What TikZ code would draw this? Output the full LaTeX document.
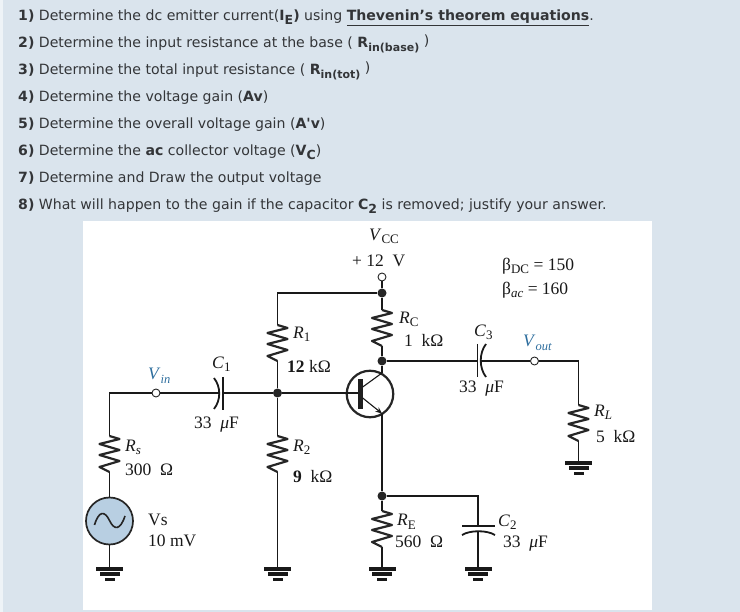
\documentclass[tikz,border=0pt]{standalone}
\usepackage{fontspec}
\setmainfont{Liberation Serif}
\newfontfamily\hdrfont{DejaVu Sans}
\usetikzlibrary{arrows.meta}
\definecolor{pagebg}{HTML}{DAE4ED}
\definecolor{pagestrip}{HTML}{EEF3F7}
\definecolor{hdrtext}{HTML}{333538}
\definecolor{srcfill}{HTML}{B8CFE2}
\definecolor{labblue}{HTML}{2E6E9E}
\newcommand{\lowtxt}[2][3]{\raisebox{-#1pt}{\fontsize{13}{13}\selectfont #2}}
\newcommand{\hlow}[2][4]{\raisebox{-#1pt}{\fontsize{12.5}{12.5}\selectfont\bfseries #2}}
\newcommand{\hlows}[2][4]{\raisebox{-#1pt}{\fontsize{11}{11}\selectfont\bfseries #2}}
\tikzset{
  x=1pt,y=-1pt,
  hdr/.style={anchor=base west,inner sep=0pt,text=hdrtext,font=\hdrfont\fontsize{14.1}{17}\selectfont},
  lab/.style={anchor=base west,inner sep=0pt,text=black!90,font=\fontsize{17.5}{20}\selectfont},
  wire/.style={line width=1.1pt,black!90},
  res/.style={line width=2.2pt,black!85,line join=round},
  plate/.style={line width=1.4pt,black!90},
  dotj/.style={circle,fill=black!85,draw=none,inner sep=0pt,minimum size=9pt},
  term/.style={circle,fill=white,draw=black!85,line width=0.9pt,inner sep=0pt,minimum size=8pt},
  gnd/.pic={
    \fill[black!90] (-13.5,-2) rectangle (13.5,2);
    \fill[black!90] (-10,3.5) rectangle (10,7);
    \fill[black!90] (-5,9.5) rectangle (5,12.5);
  }
}
\newcommand{\zig}[1]{\draw[res] (#1) -- ++(10,3) -- ++(-20,5) -- ++(20,6) -- ++(-20,5) -- ++(20,6) -- ++(-20,6) -- ++(10,5);}
\begin{document}
\begin{tikzpicture}
\useasboundingbox (0,0) rectangle (740,612);
\fill[pagebg] (0,0) rectangle (740,612);
\fill[pagestrip] (0,0) rectangle (3,612);
\fill[white] (83,221) rectangle (652,610);
% header text
\node[hdr] (q1) at (18,21) {\textbf{1)} Determine the dc emitter current(\textbf{I\hlow{E})} using \textbf{\underline{Thevenin’s theorem equations}}.};
\node[hdr] (q2) at (18,48) {\textbf{2)} Determine the input resistance at the base ( \textbf{R\hlows{in(base)}} \raisebox{2pt}{)}};
\node[hdr] (q3) at (18,75) {\textbf{3)} Determine the total input resistance ( \textbf{R\hlows{in(tot)}} \raisebox{2pt}{)}};
\node[hdr] (q4) at (18,102) {\textbf{4)} Determine the voltage gain (\textbf{Av})};
\node[hdr] (q5) at (18,129) {\textbf{5)} Determine the overall voltage gain (\textbf{A'v})};
\node[hdr] (q6) at (18,156) {\textbf{6)} Determine the \textbf{ac} collector voltage (\textbf{V\hlow{C}})};
\node[hdr] (q7) at (18,183) {\textbf{7)} Determine and Draw the output voltage};
\node[hdr] (q8) at (18,210) {\textbf{8)} What will happen to the gain if the capacitor \textbf{C\hlow{2}} is removed; justify your answer.};
% junctions and terminals
\node[term] (vcc) at (382,277) {};
\node[dotj] (ntop) at (382,293) {};
\node[dotj] (ncol) at (382,361) {};
\node[dotj] (nbase) at (277.5,393) {};
\node[dotj] (nemit) at (382,496) {};
\node[term] (vin) at (156,393) {};
\node[term] (vout) at (534.5,361) {};
\coordinate (topleft) at (277.5,293);
\coordinate (r1t) at (277.5,325); \coordinate (r1b) at (277.5,361);
\coordinate (r2t) at (277.5,436); \coordinate (r2b) at (277.5,472);
\coordinate (rct) at (382,310);   \coordinate (rcb) at (382,346);
\coordinate (ret) at (382,511);   \coordinate (reb) at (382,547);
\coordinate (rst) at (109.5,436); \coordinate (rsb) at (109.5,472);
\coordinate (rlt) at (578.5,405); \coordinate (rlb) at (578.5,441);
\coordinate (wirel) at (109.5,393);
\coordinate (wirer) at (578.5,361);
\coordinate (wirec2) at (478,496);
\coordinate (g1) at (109.5,569); \coordinate (g2) at (277.5,569);
\coordinate (g3) at (382,569);   \coordinate (g4) at (478,569);
\coordinate (g5) at (578.5,463);
\coordinate (c1l) at (219.5,393); \coordinate (c1r) at (223,393);
\coordinate (c3l) at (477.7,361);   \coordinate (c3r) at (481,361);
\coordinate (c2t) at (478,526);     \coordinate (c2b) at (478,532);
\coordinate (bar) at (360,393);
\coordinate (colend) at (382,373);
\coordinate (emend) at (382,413.5);
% source and transistor
\node[circle,draw=black!85,line width=1.7pt,fill=srcfill,minimum size=47pt,inner sep=0pt] (src) at (109.5,521) {};
\node[circle,draw=black!85,line width=2.2pt,fill=white,minimum size=46.5pt,inner sep=0pt] (q) at (370,394) {};
\draw[line width=1.6pt,black!85] (94.5,525) .. controls (99,510) and (105,511) .. (109.5,520.5) .. controls (114,530) and (120,531) .. (125,516);
% wires
\draw[wire] (vcc) -- (ntop) -- (rct);
\draw[wire] (rcb) -- (ncol) -- (colend);
\draw[wire] (ntop) -- (topleft) -- (r1t);
\draw[wire] (r1b) -- (nbase) -- (r2t);
\draw[wire] (r2b) -- (g2);
\draw[wire] (nbase) -- (bar);
\draw[wire] (ncol) -- (c3l);
\draw[wire] (c3r) -- (vout) -- (wirer) -- (rlt);
\draw[wire] (rlb) -- (g5);
\draw[wire] (emend) -- (nemit) -- (ret);
\draw[wire] (reb) -- (g3);
\draw[wire] (nemit) -- (wirec2) -- (c2t);
\draw[wire] (c2b) -- (g4);
\draw[wire] (c1r) -- (nbase);
\draw[wire] (c1l) -- (vin) -- (wirel) -- (rst);
\draw[wire] (rsb) -- (src);
\draw[wire] (src) -- (g1);
% transistor inside
\fill[black!88] (357.7,379) rectangle (362.7,409.5);
\draw[wire] (362.7,387) -- (colend);
\draw[wire,-{Stealth[length=6.5pt,width=5.5pt]}] (362.7,398) -- (emend);
% resistors
\zig{r1t} \zig{r2t} \zig{rct} \zig{ret} \zig{rst} \zig{rlt}
% capacitors
\draw[plate] (223,377) -- (223,410);
\draw[line width=1.8pt,black!90] (214,378) .. controls (221,387) and (221,400) .. (214,409);
\draw[plate] (477.7,344) -- (477.7,377);
\draw[line width=1.8pt,black!90] (486,344) .. controls (479,353) and (479,368) .. (486,377);
\draw[line width=2pt,black!90] (462,526) -- (495,526);
\draw[line width=1.8pt,black!90] (462,535) .. controls (470,530) and (487,530) .. (495,535);
% grounds
\pic at (g1) {gnd}; \pic at (g2) {gnd}; \pic at (g3) {gnd}; \pic at (g4) {gnd}; \pic at (g5) {gnd};
% labels
\node[lab] (lvcc) at (369,241) {\textit{V}\lowtxt{CC}};
\node[lab] (l12v) at (352,267) {+ 12~~V};
\node[lab] (lbdc) at (502,271) {β\lowtxt{DC} = 150};
\node[lab] (lbac) at (502,295) {β\lowtxt{\textit{ac}} = 160};
\node[lab] (lrc) at (399,324) {\textit{R}\lowtxt{C}};
\node[lab] (lrcv) at (404,347) {1~~kΩ};
\node[lab] (lc3) at (474,337) {\textit{C}\lowtxt{3}};
\node[lab,text=labblue] (lvout) at (523,347) {\textit{V}\raisebox{-4pt}{\fontsize{12.5}{12.5}\selectfont\textit{out}}};
\node[lab] (lc3v) at (459,393) {33~~\textit{μ}F};
\node[lab] (lr1) at (293,339) {\textit{R}\lowtxt{1}};
\node[lab] (lr1v) at (287,373) {\textbf{12} kΩ};
\node[lab,text=labblue] (lvin) at (148,380) {\textit{V}\raisebox{-4pt}{\fontsize{12.5}{12.5}\selectfont\textit{in}}};
\node[lab] (lc1) at (212,369) {\textit{C}\lowtxt{1}};
\node[lab] (lc1v) at (194,429) {33~~\textit{μ}F};
\node[lab] (lrs) at (125,452) {\textit{R}\lowtxt{\textit{s}}};
\node[lab] (lrsv) at (125,476) {300~~Ω};
\node[lab] (lvs) at (148,526) {Vs};
\node[lab] (lvsv) at (148,547) {10 mV};
\node[lab] (lr2) at (293,452) {\textit{R}\lowtxt{2}};
\node[lab] (lr2v) at (293,483) {\textbf{9}~~kΩ};
\node[lab] (lre) at (397,526) {\textit{R}\lowtxt{E}};
\node[lab] (lrev) at (395,548) {560~~Ω};
\node[lab] (lc2) at (498,527) {\textit{C}\lowtxt{2}};
\node[lab] (lc2v) at (503,548) {33~~\textit{μ}F};
\node[lab] (lrl) at (594,417) {\textit{R}\lowtxt{\textit{L}}};
\node[lab] (lrlv) at (596,443) {5~~kΩ};
\end{tikzpicture}
\end{document}
